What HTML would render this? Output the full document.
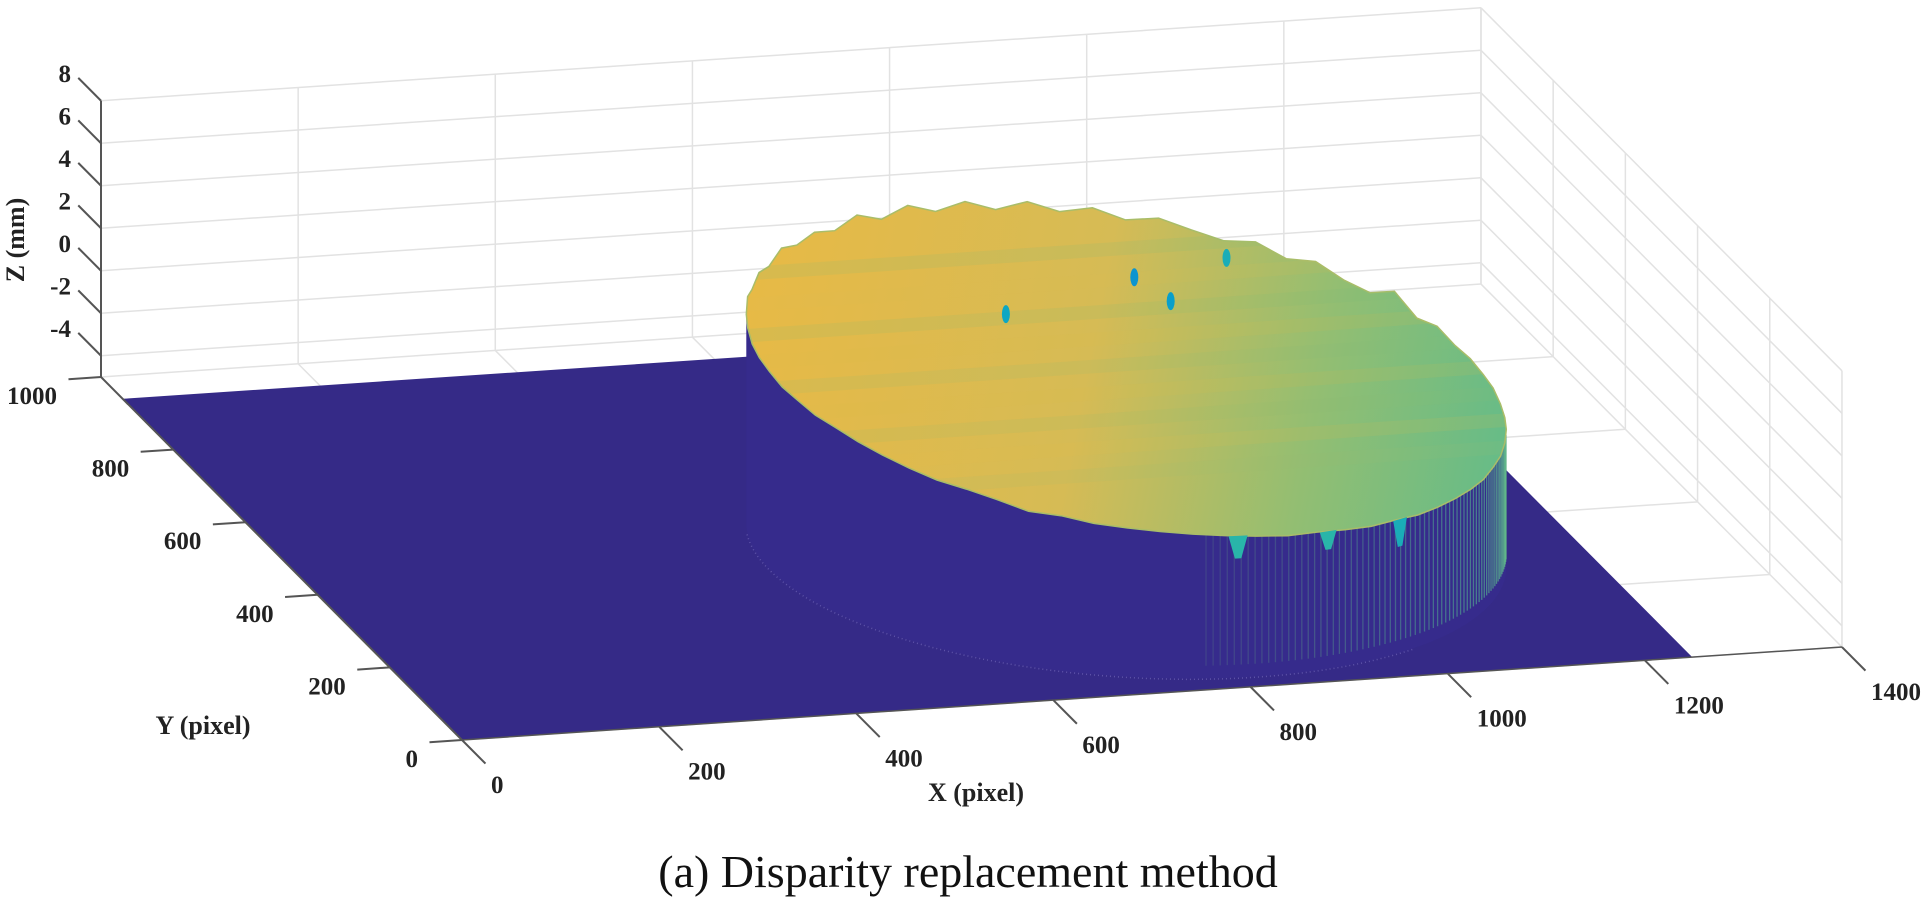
<!DOCTYPE html>
<html>
<head>
<meta charset="utf-8">
<style>
  html,body{margin:0;padding:0;background:#fff;}
  svg{display:block;}
  text{font-family:"Liberation Serif","Times New Roman",serif;fill:#222;}
  .tick{font-size:25px;font-weight:bold;}
  .title{font-size:26px;font-weight:bold;}
</style>
</head>
<body>
<svg id="chart" width="1925" height="901" viewBox="0 0 1925 901" xmlns="http://www.w3.org/2000/svg">
  <defs>
    <linearGradient id="topGrad" gradientUnits="userSpaceOnUse" x1="0" y1="0" x2="1" y2="0">
      <stop id="g0" offset="0"/>
      <stop id="g1" offset="0.45"/>
      <stop id="g2" offset="0.75"/>
      <stop id="g3" offset="1"/>
    </linearGradient>
    <clipPath id="topClip"><polygon id="topClipPoly" points="0,0"/></clipPath>
  </defs>
  <g id="gridLayer"></g>
  <g id="floorLayer"></g>
  <g id="axesLayer"></g>
  <g id="surfaceLayer"></g>
  <text class="title" transform="translate(24,240) rotate(-90)" text-anchor="middle">Z (mm)</text>
  <text class="title" x="203" y="734" text-anchor="middle">Y (pixel)</text>
  <text class="title" x="976" y="801" text-anchor="middle">X (pixel)</text>
  <text x="968" y="887" text-anchor="middle" style="font-size:46px;fill:#111;">(a) Disparity replacement method</text>
</svg>
<script>
// ---- data ----
const xTicks = [0, 200, 400, 600, 800, 1000, 1200, 1400];
const yTicks = [0, 200, 400, 600, 800, 1000];
const zTicks = [-4, -2, 0, 2, 4, 6, 8];
const floorExtentX = [0, 1248];
const floorExtentY = [0, 940];
const floorZ = -5;
const diskCenter = [816, 388];
const diskRadius = 362;
// rim height (mm) sampled every 5 degrees, 0..355
const rimAngles = [0,5,10,15,20,25,30,35,40,45,50,55,60,65,70,75,80,85,90,95,100,105,110,115,120,125,130,135,140,145,150,155,160,165,170,175,180,185,190,195,200,205,210,215,220,225,230,235,240,245,250,255,260,265,270,275,280,285,290,295,300,305,310,315,320,325,330,335,340,345,350,355];
const rimZ = [1.9,2.1,2.2,2.6,2.5,3.3,2.8,3.0,3.5,3.3,3.8,3.6,3.9,4.3,4.1,4.6,4.4,4.9,4.6,5.1,4.8,5.3,4.9,5.4,5.0,5.3,5.1,5.4,5.0,5.2,4.9,5.1,4.8,4.7,4.5,4.4,4.3,4.1,4.0,3.8,3.7,3.5,3.3,3.1,2.9,2.8,2.6,2.3,2.3,2.1,2.0,1.9,1.8,1.7,1.6,1.5,1.5,1.4,1.3,1.3,1.2,1.2,1.2,1.2,1.2,1.3,1.3,1.4,1.5,1.5,1.6,1.8];
const dripAngles = [267, 282, 296];
const dripZ = [0.6, 0.6, 0.0];
const pitX = [904, 747, 916, 1010];
const pitY = [606, 533, 538, 640];
const pitZ = [-1.0, 0.0, -0.5, 0.5];
// surface texture bands: y position (data) and height tint
const bandY = [700, 620, 540, 470, 400, 330, 260, 190, 120];
const bandZ = [2.4, 4.6, 2.6, 4.7, 2.8, 4.8, 3.0, 4.9, 3.2];

// ---- projection (axis functions) ----
const O = [462, 740];
const XV = [0.9857, -0.0664];
const YV = [-0.361, -0.363];
const ZS = 21.25;
function P(x, y, z) {
  return [O[0] + XV[0]*x + YV[0]*y, O[1] + XV[1]*x + YV[1]*y - (z + 5)*ZS];
}
const cmapStops = [[0,'#352a87'],[0.15,'#0f5cdd'],[0.3,'#1481d4'],[0.45,'#06a4ca'],[0.6,'#2eb7a4'],[0.75,'#87bf77'],[0.88,'#d1bb59'],[1,'#f5b93a']];
function hex(h){return [parseInt(h.substr(1,2),16),parseInt(h.substr(3,2),16),parseInt(h.substr(5,2),16)];}
function cmap(z) {
  let t = Math.max(0, Math.min(1, (z + 5) / 10.5));
  for (let i = 1; i < cmapStops.length; i++) {
    if (t <= cmapStops[i][0]) {
      const a = cmapStops[i-1], b = cmapStops[i];
      const f = (t - a[0]) / (b[0] - a[0]);
      const ca = hex(a[1]), cb = hex(b[1]);
      return 'rgb(' + ca.map((v,k)=>Math.round(v + (cb[k]-v)*f)).join(',') + ')';
    }
  }
  return cmapStops[cmapStops.length-1][1];
}
function rimAt(deg) {
  deg = ((deg % 360) + 360) % 360;
  const i = Math.floor(deg / 5), f = (deg - i*5) / 5;
  return rimZ[i] + (rimZ[(i+1) % rimZ.length] - rimZ[i]) * f;
}
function diskPt(deg, z) {
  const r = deg * Math.PI / 180;
  return P(diskCenter[0] + diskRadius*Math.cos(r), diskCenter[1] + diskRadius*Math.sin(r), z);
}

const NS = 'http://www.w3.org/2000/svg';
function mk(tag, parent) { const e = document.createElementNS(NS, tag); parent.appendChild(e); return e; }
function seg(parent, a, b, color, w) {
  const l = mk('line', parent);
  l.setAttribute('x1', a[0]); l.setAttribute('y1', a[1]);
  l.setAttribute('x2', b[0]); l.setAttribute('y2', b[1]);
  l.setAttribute('stroke', color); l.setAttribute('stroke-width', w);
  return l;
}
const pts = arr => arr.map(p => p[0].toFixed(1) + ',' + p[1].toFixed(1)).join(' ');

// ---- grid ----
const gridG = document.getElementById('gridLayer');
const GC = '#e2e2e2';
xTicks.forEach(x => {
  let l = seg(gridG, P(x,1000,-5), P(x,1000,8), GC, 1.5);
  
  
  l = seg(gridG, P(x,0,-5), P(x,1000,-5), GC, 1.5);
  
  
});
yTicks.forEach(y => {
  let l = seg(gridG, P(1400,y,-5), P(1400,y,8), GC, 1.5);
  
  
  l = seg(gridG, P(0,y,-5), P(1400,y,-5), GC, 1.5);
  
  
});
zTicks.forEach(z => {
  let l = seg(gridG, P(0,1000,z), P(1400,1000,z), GC, 1.5);
  
  
  l = seg(gridG, P(1400,0,z), P(1400,1000,z), GC, 1.5);
  
  
});

// ---- floor ----
const floorG = document.getElementById('floorLayer');
const fl = mk('polygon', floorG);
fl.setAttribute('points', pts([P(floorExtentX[0],floorExtentY[0],floorZ), P(floorExtentX[1],floorExtentY[0],floorZ), P(floorExtentX[1],floorExtentY[1],floorZ), P(floorExtentX[0],floorExtentY[1],floorZ)]));
fl.setAttribute('fill', '#352a87');



// ---- axes ----
const axesG = document.getElementById('axesLayer');
const AC = '#555';
let al = seg(axesG, P(0,1000,-5), P(0,1000,8), AC, 2);


al = seg(axesG, P(0,0,-5), P(0,1000,-5), AC, 2);


al = seg(axesG, P(0,0,-5), P(1400,0,-5), AC, 1.5);



zTicks.forEach(z => {
  const a = P(0,1000,z);
  const t = seg(axesG, a, P(0,1063,z), AC, 2);
  
  
  const tx = mk('text', axesG);
  tx.setAttribute('class', 'tick'); tx.setAttribute('x', 71); tx.setAttribute('y', a[1] - 19);
  tx.setAttribute('text-anchor', 'end'); tx.textContent = z;
  
  
});
yTicks.forEach(y => {
  const a = P(0,y,-5);
  const t = seg(axesG, a, P(-33,y,-5), AC, 2);
  
  
  const tx = mk('text', axesG);
  tx.setAttribute('class', 'tick'); tx.setAttribute('x', a[0] - 44); tx.setAttribute('y', a[1] + 27);
  tx.setAttribute('text-anchor', 'end'); tx.textContent = y;
  
  
});
xTicks.forEach(x => {
  const a = P(x,0,-5);
  const t = seg(axesG, a, P(x,-65,-5), AC, 2);
  
  
  const tx = mk('text', axesG);
  tx.setAttribute('class', 'tick'); tx.setAttribute('x', a[0] + 29); tx.setAttribute('y', a[1] + 53);
  tx.textContent = x;
  
  
});

// ---- disk surface ----
const surfG = document.getElementById('surfaceLayer');
const basePts = [];
for (let d = 165; d <= 300; d += 2) basePts.push(diskPt(d, floorZ));
const bl = mk('polyline', surfG);
bl.setAttribute('points', pts(basePts));
bl.setAttribute('fill', 'none'); bl.setAttribute('stroke', '#7a70c0');
bl.setAttribute('stroke-width', 3); bl.setAttribute('stroke-dasharray', '1 3'); bl.setAttribute('opacity', '0.6');



const wallTop = [], wallBot = [];
for (let d = 160; d <= 340; d += 1) { wallTop.push(diskPt(d, rimAt(d))); wallBot.push(diskPt(d, floorZ)); }
const wallPoly = mk('polygon', surfG);
wallPoly.setAttribute('points', pts(wallTop.concat(wallBot.slice().reverse())));
wallPoly.setAttribute('fill', '#362b8c');


for (let d = 262; d <= 339; d += 1.1) {
  const z = rimAt(d);
  const s = seg(surfG, diskPt(d, floorZ + 0.6), diskPt(d, z), cmap(z + 0.8), 1.3);
  s.setAttribute('opacity', (0.15 + 0.6 * (d - 262) / 78).toFixed(2));
  
  
}

const topPts = rimAngles.map((d, i) => diskPt(d, rimZ[i]));
document.getElementById('topClipPoly').setAttribute('points', pts(topPts));
const hiPt = diskPt(160, 5.0), loPt = diskPt(330, 1.3);
const gradEl = document.getElementById('topGrad');
gradEl.setAttribute('x1', hiPt[0]); gradEl.setAttribute('y1', hiPt[1]);
gradEl.setAttribute('x2', loPt[0]); gradEl.setAttribute('y2', loPt[1]);
document.getElementById('g0').setAttribute('stop-color', cmap(5.0));
document.getElementById('g1').setAttribute('stop-color', cmap(4.4));
document.getElementById('g2').setAttribute('stop-color', cmap(3.1));
document.getElementById('g3').setAttribute('stop-color', cmap(2.3));
const topSurf = mk('polygon', surfG);
topSurf.setAttribute('points', pts(topPts));
topSurf.setAttribute('fill', 'url(#topGrad)');
topSurf.setAttribute('stroke', cmap(3.5)); topSurf.setAttribute('stroke-width', 1.5);



// texture bands
const bandG = mk('g', surfG);
bandG.setAttribute('clip-path', 'url(#topClip)');


bandY.forEach((y, i) => {
  const a = P(300, y, 3.6), b = P(1300, y, 3.6), c = P(1300, y - 35, 3.6), d = P(300, y - 35, 3.6);
  const bp = mk('polygon', bandG);
  bp.setAttribute('points', pts([a, b, c, d]));
  bp.setAttribute('fill', cmap(bandZ[i]));
  bp.setAttribute('opacity', '0.12');
  
  
});

dripAngles.forEach((d, i) => {
  const z = rimAt(d);
  const dp = mk('polygon', surfG);
  dp.setAttribute('points', pts([diskPt(d - 1.5, z), diskPt(d + 1.5, z), diskPt(d + 0.5, dripZ[i]), diskPt(d - 0.5, dripZ[i])]));
  dp.setAttribute('fill', cmap(dripZ[i] + 0.5));
  
  
});

pitX.forEach((x, i) => {
  const c = P(x, pitY[i], 3.6);
  const e = mk('ellipse', surfG);
  e.setAttribute('cx', c[0]); e.setAttribute('cy', c[1]);
  e.setAttribute('rx', 4); e.setAttribute('ry', 9);
  e.setAttribute('fill', cmap(pitZ[i]));
  
  
});
</script>
</body>
</html>
